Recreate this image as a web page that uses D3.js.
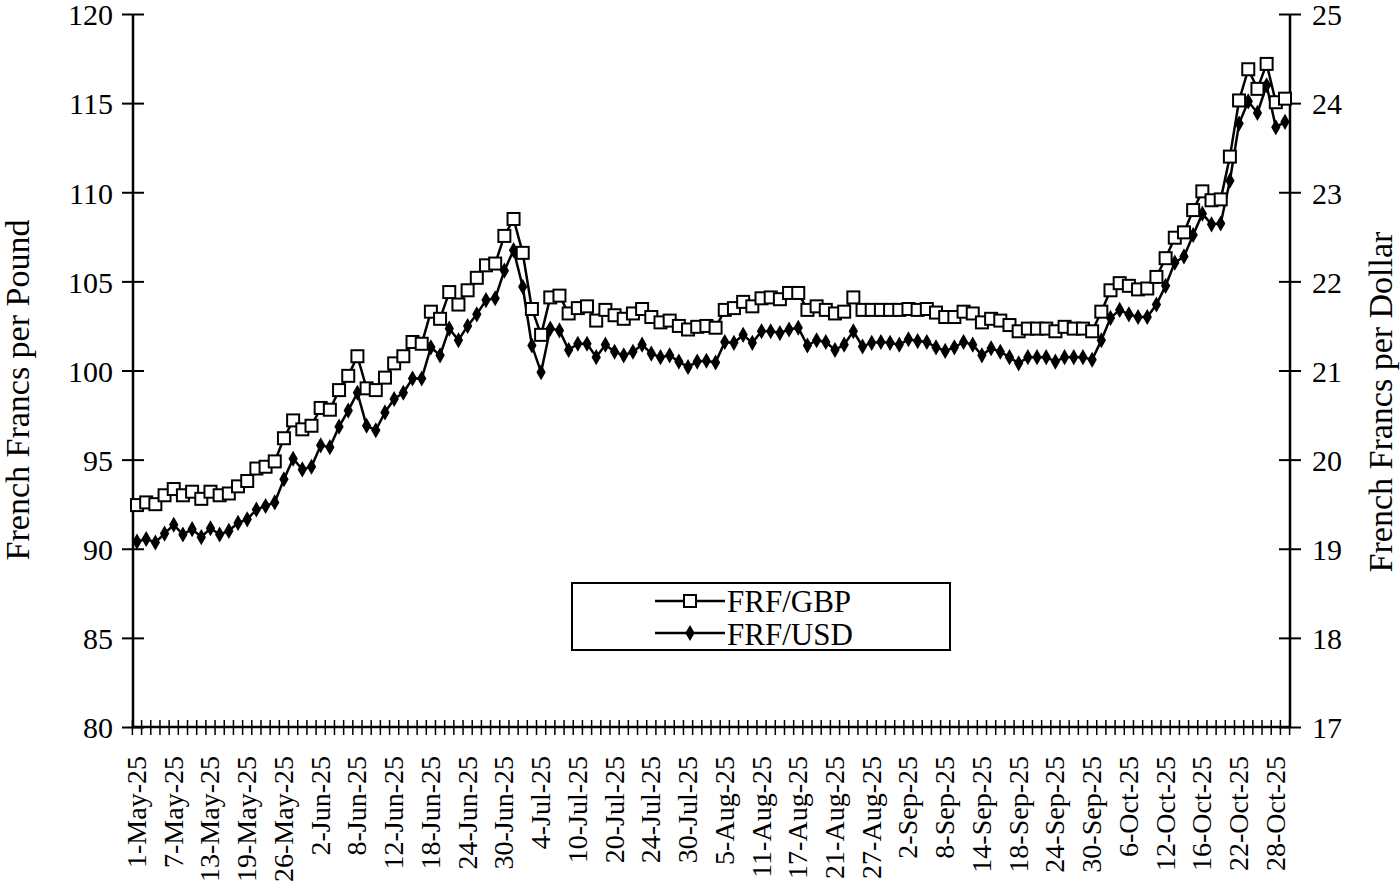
<!DOCTYPE html>
<html><head><meta charset="utf-8">
<script src="https://cdn.jsdelivr.net/npm/d3@7"></script>
<style>body{margin:0;background:#fff}</style></head>
<body><svg id="c" width="1400" height="881"></svg>
<script>
const labels=["1-May-25","7-May-25","13-May-25","19-May-25","26-May-25","2-Jun-25","8-Jun-25","12-Jun-25","18-Jun-25","24-Jun-25","30-Jun-25","4-Jul-25","10-Jul-25","20-Jul-25","24-Jul-25","30-Jul-25","5-Aug-25","11-Aug-25","17-Aug-25","21-Aug-25","27-Aug-25","2-Sep-25","8-Sep-25","14-Sep-25","18-Sep-25","24-Sep-25","30-Sep-25","6-Oct-25","12-Oct-25","16-Oct-25","22-Oct-25","28-Oct-25"];
const gbp=[92.45,92.6,92.5,93.0,93.35,93.0,93.2,92.8,93.2,93.0,93.1,93.5,93.8,94.5,94.6,94.9,96.2,97.2,96.7,96.9,97.9,97.8,98.9,99.7,100.8,99.0,98.9,99.6,100.4,100.8,101.6,101.5,103.3,
102.9,104.4,103.7,104.5,105.2,105.9,106.0,107.55,108.5,106.6,103.45,102.0,104.1,104.2,103.2,103.5,103.6,102.8,103.4,103.1,102.9,103.2,103.45,103.0,102.7,102.8,102.5,102.3,102.45,102.5,102.4,
103.4,103.5,103.85,103.6,104.05,104.1,104.0,104.35,104.35,103.4,103.6,103.4,103.2,103.3,104.1,103.4,103.4,103.4,103.4,103.4,103.45,103.4,103.45,103.25,103.0,103.0,103.3,103.2,102.7,102.9,102.8,
102.55,102.2,102.35,102.35,102.35,102.2,102.45,102.35,102.35,102.2,103.3,104.5,104.9,104.75,104.55,104.6,105.25,106.3,107.45,107.75,109.0,110.05,109.55,109.6,112.0,115.15,116.9,115.8,117.2,115.05,115.25];
const usd=[19.08,19.11,19.07,19.17,19.27,19.16,19.22,19.13,19.23,19.16,19.2,19.29,19.33,19.44,19.48,19.52,19.78,20.01,19.89,19.92,20.16,20.14,20.37,20.55,20.75,20.38,20.33,20.53,20.68,20.75,20.91,20.91,21.26,
21.17,21.47,21.34,21.5,21.63,21.79,21.81,22.12,22.35,21.94,21.28,20.98,21.47,21.45,21.23,21.3,21.3,21.15,21.29,21.21,21.17,21.21,21.29,21.19,21.15,21.17,21.1,21.04,21.1,21.11,21.09,
21.32,21.31,21.4,21.31,21.44,21.44,21.42,21.46,21.48,21.28,21.34,21.32,21.23,21.29,21.44,21.27,21.31,21.32,21.31,21.29,21.35,21.33,21.32,21.26,21.22,21.26,21.32,21.29,21.17,21.25,21.21,
21.15,21.08,21.15,21.15,21.15,21.1,21.15,21.15,21.15,21.12,21.34,21.59,21.68,21.63,21.6,21.6,21.74,21.95,22.21,22.28,22.52,22.76,22.64,22.65,23.13,23.77,24.02,23.89,24.2,23.73,23.79];
const leftTicks=[80,85,90,95,100,105,110,115,120];
const rightTicks=[17,18,19,20,21,22,23,24,25];
const labelEvery=4;

const svg=d3.select("#c");
const L=133,R=1290,T=14,B=727;
const N=gbp.length;
const x=d3.scaleLinear().domain([0,N-1]).range([137,1285]);
const yL=d3.scaleLinear().domain([80,120]).range([B,T]);
const yR=d3.scaleLinear().domain([17,25]).range([B,T]);
const font="Liberation Serif, Times New Roman, serif";

const gl=svg.append("g").attr("transform",`translate(${L},0)`).call(d3.axisLeft(yL).tickValues(leftTicks).tickSize(11).tickPadding(9));
gl.selectAll(".tick line").attr("x2",-11).clone().attr("x2",11);
const gr=svg.append("g").attr("transform",`translate(${R},0)`).call(d3.axisRight(yR).tickValues(rightTicks).tickSize(11).tickPadding(11));
gr.selectAll(".tick line").clone().attr("x2",-11);
[gl,gr].forEach(g=>{g.select(".domain").attr("stroke-width",2.5).attr("d",`M0,${T}V${B}`);g.selectAll(".tick line").attr("stroke-width",2);g.selectAll("text").attr("font-family",font).attr("font-size",30).attr("fill","#000");});
gl.selectAll("text").attr("dy","0.36em");gr.selectAll("text").attr("dy","0.36em");
const xb=svg.append("g");
xb.append("line").attr("x1",L).attr("x2",R).attr("y1",B).attr("y2",B).attr("stroke","#000").attr("stroke-width",2.5);
const step=x(1)-x(0);
d3.range(N+1).forEach(i=>{xb.append("line").attr("x1",x(i)-step/2).attr("x2",x(i)-step/2).attr("y1",B-7).attr("y2",B+8).attr("stroke","#000").attr("stroke-width",1.5);});
labels.forEach((lab,k)=>{const i=k*labelEvery;
 xb.append("text").attr("transform",`translate(${x(i)+9},756) rotate(-90)`).attr("text-anchor","end").attr("font-family",font).attr("font-size",28).text(lab);});

svg.append("text").attr("transform","translate(29,390) rotate(-90)").attr("text-anchor","middle").attr("font-family",font).attr("font-size",34).text("French Francs per Pound");
svg.append("text").attr("transform","translate(1392,402) rotate(-90)").attr("text-anchor","middle").attr("font-family",font).attr("font-size",34).text("French Francs per Dollar");

const line1=d3.line().x((d,i)=>x(i)).y(d=>yL(d));
const line2=d3.line().x((d,i)=>x(i)).y(d=>yR(d));
svg.append("path").attr("d",line2(usd)).attr("fill","none").attr("stroke","#000").attr("stroke-width",2.5);
svg.append("path").attr("d",line1(gbp)).attr("fill","none").attr("stroke","#000").attr("stroke-width",2.5);
const dia=d3.symbol().type(d3.symbolDiamond).size(75);
svg.append("g").selectAll("path").data(usd).join("path").attr("d",dia).attr("transform",(d,i)=>`translate(${x(i)},${yR(d)})`).attr("fill","#000");
svg.append("g").selectAll("rect").data(gbp).join("rect").attr("x",(d,i)=>x(i)-6).attr("y",d=>yL(d)-6).attr("width",12).attr("height",12).attr("fill","#fff").attr("stroke","#000").attr("stroke-width",2);

const lg=svg.append("g");
lg.append("rect").attr("x",572).attr("y",583).attr("width",378).attr("height",67).attr("fill","#fff").attr("stroke","#000").attr("stroke-width",2);
lg.append("line").attr("x1",655).attr("x2",725).attr("y1",601).attr("y2",601).attr("stroke","#000").attr("stroke-width",2.5);
lg.append("rect").attr("x",684).attr("y",595).attr("width",12).attr("height",12).attr("fill","#fff").attr("stroke","#000").attr("stroke-width",2);
lg.append("line").attr("x1",655).attr("x2",725).attr("y1",633).attr("y2",633).attr("stroke","#000").attr("stroke-width",2.5);
lg.append("path").attr("d",dia).attr("transform","translate(690,633)");
lg.append("text").attr("x",727).attr("y",612).attr("font-family",font).attr("font-size",31).text("FRF/GBP");
lg.append("text").attr("x",727).attr("y",645).attr("font-family",font).attr("font-size",31).text("FRF/USD");
</script></body></html>
